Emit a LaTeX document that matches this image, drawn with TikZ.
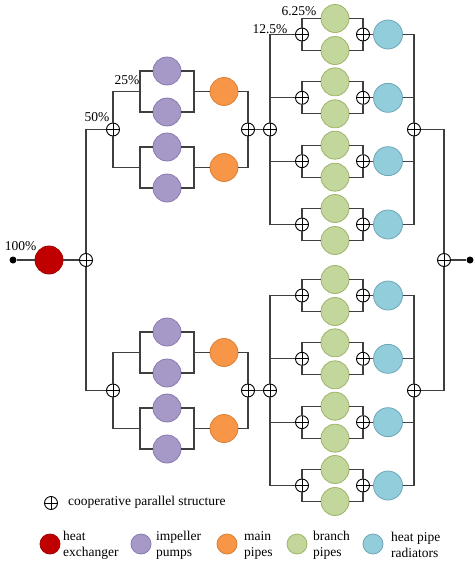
\documentclass[tikz,border=0pt]{standalone}
\usepackage{fontspec}
\setmainfont{Liberation Serif}
\definecolor{wire}{HTML}{3F3F3F}
\definecolor{hxF}{HTML}{C00000}\definecolor{hxD}{HTML}{A00000}
\definecolor{puF}{HTML}{A799C7}\definecolor{puD}{HTML}{8A78B0}
\definecolor{orF}{HTML}{F79646}\definecolor{orD}{HTML}{D98038}
\definecolor{grF}{HTML}{C3D69B}\definecolor{grD}{HTML}{9DB46A}
\definecolor{blF}{HTML}{92CDDC}\definecolor{blD}{HTML}{6FA6B8}
\tikzset{
  wirestyle/.style={draw=wire,line width=1.2pt},
  comp/.style={circle,inner sep=0pt,minimum size=28pt,line width=0.8pt},
  hxnode/.style={comp,fill=hxF,draw=hxD},
  punode/.style={comp,fill=puF,draw=puD},
  ornode/.style={comp,fill=orF,draw=orD},
  grnode/.style={comp,fill=grF,draw=grD},
  blnode/.style={comp,fill=blF,draw=blD,minimum size=29pt},
  opl/.style={circle,draw=black,fill=white,line width=0.9pt,inner sep=0pt,minimum size=13pt,
    path picture={\draw[line width=0.9pt] (path picture bounding box.north) -- (path picture bounding box.south)
      (path picture bounding box.west) -- (path picture bounding box.east);}},
  enddot/.style={circle,fill=black,inner sep=0pt,minimum size=7pt},
  lbl/.style={inner sep=0pt,font=\fontsize{13.5}{16}\selectfont},
  leg/.style={circle,inner sep=0pt,minimum size=20pt,line width=0.8pt},
}
\begin{document}
\begin{tikzpicture}[x=1pt,y=-1pt]
\useasboundingbox (0,0) rectangle (474,565);
% input side
\node[enddot] (dotL) at (13,260) {};
\node[hxnode] (hx) at (49,260) {};
\node[opl] (sL) at (86,260) {};
\node[opl] (sR) at (444,260) {};
\node[enddot] (dotR) at (470,260) {};
\draw[wirestyle] (dotL) -- (hx) -- (sL);
\draw[wirestyle] (sR) -- (dotR);
\foreach \c/\yc in {T/129.5,B/390.5}{
  \node[opl] (s1\c) at (113,\yc) {};
  \node[opl] (s2\c) at (248,\yc) {};
  \node[opl] (s3\c) at (270,\yc) {};
  \node[opl] (s4\c) at (414,\yc) {};
  \draw[wirestyle] (sL) |- (s1\c);
  \draw[wirestyle] (s2\c) -- (s3\c);
  \draw[wirestyle] (s4\c) -| (sR);
  \foreach \k/\dy in {1/-38,2/38}{
    \pgfmathsetmacro\yb{\yc+\dy}
    \node[punode] (p\c\k a) at (167,\yb-20.5) {};
    \node[punode] (p\c\k b) at (167,\yb+20.5) {};
    \coordinate (l\c\k) at (140,\yb);
    \coordinate (r\c\k) at (194,\yb);
    \node[ornode] (m\c\k) at (224,\yb) {};
    \draw[wirestyle] (p\c\k a) -| (l\c\k) |- (p\c\k b);
    \draw[wirestyle] (p\c\k a) -| (r\c\k) |- (p\c\k b);
    \draw[wirestyle] (s1\c) |- (l\c\k);
    \draw[wirestyle] (r\c\k) -- (m\c\k);
    \draw[wirestyle] (m\c\k) -| (s2\c);
  }
  \foreach \j/\dy in {1/-95,2/-31.67,3/31.67,4/95}{
    \pgfmathsetmacro\yb{\yc+\dy}
    \node[opl] (gl\c\j) at (302,\yb) {};
    \node[grnode] (g\c\j a) at (335,\yb-16) {};
    \node[grnode] (g\c\j b) at (335,\yb+16) {};
    \node[opl] (gr\c\j) at (363,\yb) {};
    \node[blnode] (b\c\j) at (388,\yb) {};
    \draw[wirestyle] (s3\c) |- (gl\c\j);
    \draw[wirestyle] (g\c\j a) -| (gl\c\j) |- (g\c\j b);
    \draw[wirestyle] (g\c\j a) -| (gr\c\j) |- (g\c\j b);
    \draw[wirestyle] (gr\c\j) -- (b\c\j);
    \draw[wirestyle] (b\c\j) -| (s4\c);
  }
}
% percentage labels
\node[lbl] (t100) at (20.5,246) {100\%};
\node[lbl] (t50) at (97,117) {50\%};
\node[lbl] (t25) at (127,80) {25\%};
\node[lbl] (t125) at (270,29) {12.5\%};
\node[lbl] (t625) at (299,11) {6.25\%};
% legend
\node[opl] (lgo) at (51,503) {};
\node[lbl,anchor=west] (lgot) at (68,502) {cooperative parallel structure};
\node[leg,fill=hxF,draw=hxD] (lg1) at (50,544) {};
\node[leg,fill=puF,draw=puD] (lg2) at (141,544) {};
\node[leg,fill=orF,draw=orD] (lg3) at (227,544) {};
\node[leg,fill=grF,draw=grD] (lg4) at (297,544) {};
\node[leg,fill=blF,draw=blD] (lg5) at (373,544) {};
\node[lbl,anchor=west,align=left] (lt1) at (63,545) {heat\\exchanger};
\node[lbl,anchor=west,align=left] (lt2) at (156,545) {impeller\\pumps};
\node[lbl,anchor=west,align=left] (lt3) at (244,545) {main\\pipes};
\node[lbl,anchor=west,align=left] (lt4) at (313,545) {branch\\pipes};
\node[lbl,anchor=west,align=left] (lt5) at (391,545) {heat pipe\\radiators};
\end{tikzpicture}
\end{document}
